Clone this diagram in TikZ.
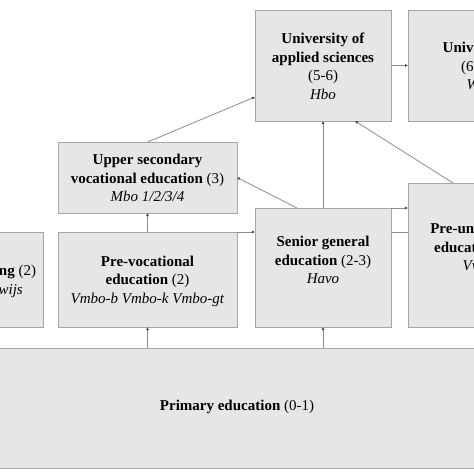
\documentclass[tikz,border=0pt]{standalone}
\usepackage{fontspec}
\setmainfont{Liberation Serif}
\usepackage{tikz}
\usetikzlibrary{calc,positioning,arrows.meta}
\definecolor{boxfill}{HTML}{E6E6E6}
\definecolor{boxline}{HTML}{A6A6A6}
\definecolor{linkline}{HTML}{8C8C8C}

\begin{document}
\begin{tikzpicture}[x=1pt,y=-1pt,
  box/.style={rectangle,draw=boxline,fill=boxfill,line width=0.9pt,inner sep=0pt,outer sep=0pt},
  lbl/.style={align=center,inner sep=0pt,font=\fontsize{15}{18.5}\selectfont},
  link/.style={draw=linkline,line width=0.8pt,-{Latex[length=3pt,width=3pt,color=black!75]}}]
\path[use as bounding box] (0,0) rectangle (474,474);
\clip (0,0) rectangle (474,474);

% boxes
\node (uas) [box,minimum width=136pt,minimum height=111pt] at (323,65.5) {};
\node (uni) [box,minimum width=136pt,minimum height=111pt] at (476,65.5) {};
\node (usv) [box,minimum width=179pt,minimum height=71pt] at (147.5,177.5) {};
\node (pv) [box,minimum width=179pt,minimum height=95pt] at (147.5,279.5) {};
\node (pt) [box,minimum width=158pt,minimum height=95pt] at (-36,279.5) {};
\node (sg) [box,minimum width=136pt,minimum height=119pt] at (323,267.5) {};
\node (pu) [box,minimum width=136pt,minimum height=144pt] at (476,255) {};
\node (prim) [box,minimum width=500pt,minimum height=120pt] at (237,408) {};

% texts
\node (uas-t) [lbl] at (323,66.5) {\textbf{University of}\\\textbf{applied sciences}\\(5-6)\\\textit{Hbo}};
\node (uni-t) [lbl] at (476,66) {\textbf{University}\\(6-7)\\\textit{Wo}};
\node (usv-t) [lbl] at (147.5,178) {\textbf{Upper secondary}\\\textbf{vocational education} (3)\\\textit{Mbo 1/2/3/4}};
\node (pv-t) [lbl] at (147.5,281) {\textbf{Pre-vocational}\\\textbf{education} (2)\\\textit{Vmbo-b Vmbo-k Vmbo-gt}};
\node (pt-t) [lbl] at (-31,281.5) {\textbf{Practical training} (2)\\\textit{Praktijkonderwijs}};
\node (sg-t) [lbl] at (323,260) {\textbf{Senior general}\\\textbf{education} (2-3)\\\textit{Havo}};
\node (pu-t) [lbl] at (476,247) {\textbf{Pre-university}\\\textbf{education} (3)\\\textit{Vwo}};
\node (prim-t) [lbl] at (237,407) {\textbf{Primary education} (0-1)};

% connectors
\draw[link] (pv.south |- prim.north) -- (pv.south);
\draw[link] (sg.south |- prim.north) -- (sg.south);
\draw[link] (pv.north) -- (usv.south);
\draw[link] (usv.north) -- ([yshift=-31.5pt]uas.west);
\draw[link] ([xshift=-26pt]sg.north) -- (usv.east);
\draw[link] (sg.north) -- (uas.south);
\draw[link] ([xshift=-23pt]pu.north) -- ([xshift=32pt]uas.south);
\draw[link] (uas.east) -- (uni.west);
\draw[link] (pv.north east) -- (pv.north east -| sg.west);
\draw[link] (sg.north east) -- (sg.north east -| pu.west);
\draw[draw=linkline,line width=0.8pt] (pv.north east -| sg.east) -- (pv.north east -| pu.west);
\end{tikzpicture}
\end{document}
